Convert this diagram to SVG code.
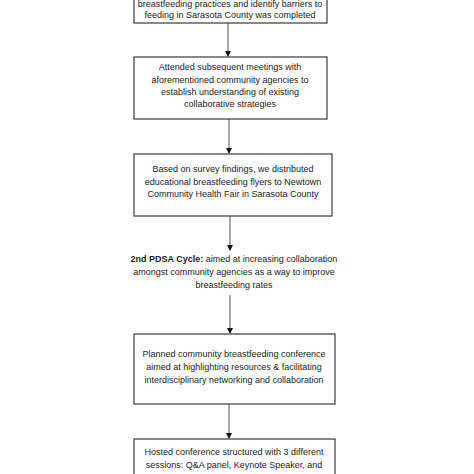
<svg xmlns="http://www.w3.org/2000/svg" width="474" height="474" viewBox="0 0 474 474">
<style>
.box{fill:#fff;stroke:#3a3a3a;stroke-width:1.2}
.t{font-family:"Liberation Sans",Arial,sans-serif;font-size:9px;fill:#222;text-anchor:middle}
.b{font-weight:bold}
.c{stroke:#555;stroke-width:1;fill:none;marker-end:url(#ah)}
</style>
<defs>
<marker id="ah" markerWidth="6" markerHeight="6" refX="5" refY="3" orient="auto" markerUnits="userSpaceOnUse">
<path d="M0,0 L6,3 L0,6 Z" fill="#111"/>
</marker>
</defs>
<rect width="474" height="474" fill="#fff"/>
<g id="connectors">
<line class="c" x1="228" y1="23" x2="228" y2="56"/>
<line class="c" x1="229" y1="119" x2="229" y2="153"/>
<line class="c" x1="230" y1="216" x2="230" y2="250"/>
<line class="c" x1="230" y1="295" x2="230" y2="333"/>
<line class="c" x1="229" y1="404" x2="229" y2="438"/>
</g>
<g id="n1">
<rect class="box" x="134" y="-20" width="193" height="43"/>
<text class="t" x="230" y="7">breastfeeding practices and identify barriers to</text>
<text class="t" x="230" y="18">feeding in Sarasota County was completed</text>
</g>
<g id="n2">
<rect class="box" x="134" y="57" width="193" height="62"/>
<text class="t" x="230" y="70">Attended subsequent meetings with</text>
<text class="t" x="230" y="83">aforementioned community agencies to</text>
<text class="t" x="230" y="95">establish understanding of existing</text>
<text class="t" x="230" y="107">collaborative strategies</text>
</g>
<g id="n3">
<rect class="box" x="134" y="154" width="198" height="62"/>
<text class="t" x="233" y="172">Based on survey findings, we distributed</text>
<text class="t" x="233" y="185">educational breastfeeding flyers to Newtown</text>
<text class="t" x="233" y="197">Community Health Fair in Sarasota County</text>
</g>
<g id="n4">
<text class="t" x="234" y="262"><tspan class="b">2nd PDSA Cycle:</tspan> aimed at increasing collaboration</text>
<text class="t" x="234" y="275">amongst community agencies as a way to improve</text>
<text class="t" x="234" y="288">breastfeeding rates</text>
</g>
<g id="n5">
<rect class="box" x="134" y="334" width="201" height="70"/>
<text class="t" x="234" y="357">Planned community breastfeeding conference</text>
<text class="t" x="234" y="370">aimed at highlighting resources &amp; facilitating</text>
<text class="t" x="234" y="383">interdisciplinary networking and collaboration</text>
</g>
<g id="n6">
<rect class="box" x="134" y="439" width="201" height="60"/>
<text class="t" x="234" y="455">Hosted conference structured with 3 different</text>
<text class="t" x="234" y="468">sessions: Q&amp;A panel, Keynote Speaker, and</text>
</g>
</svg>
